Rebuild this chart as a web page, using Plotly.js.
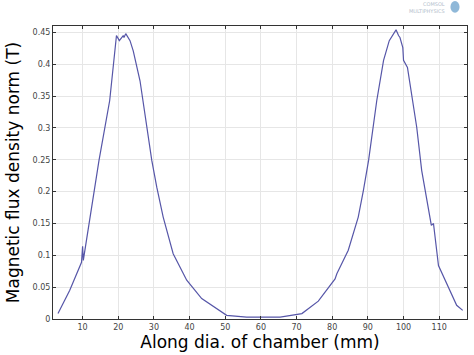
<!DOCTYPE html>
<html>
<head>
<meta charset="utf-8">
<script src="https://cdn.plot.ly/plotly-3.0.1.min.js"></script>
<style>html,body{margin:0;padding:0;background:#fff;}#chart{width:474px;height:355px;}</style>
</head>
<body>
<div id="chart"></div>
<script>
// Position along chamber diameter (mm)
const positionMm = [3.1, 6.4, 9.7, 10.0, 10.2, 11.6, 13.0, 14.6, 17.6, 19.5, 20.3, 21.4, 21.6, 22.1, 23.3, 24.2, 26.1, 29.4, 30.8, 32.6, 35.4, 39.2, 43.4, 50.4, 56.0, 65.4, 71.5, 76.1, 80.8, 81.3, 84.5, 87.3, 88.75, 90.2, 92.5, 94.4, 96.0, 97.2, 97.9, 98.6, 99.0, 99.8, 100.0, 101.1, 102.3, 103.7, 105.1, 107.5, 107.8, 108.4, 109.8, 114.9, 116.6];
// Magnetic flux density norm (T)
const fluxT = [0.0085, 0.045, 0.089, 0.114, 0.092, 0.144, 0.197, 0.249, 0.343, 0.445, 0.437, 0.445, 0.442, 0.448, 0.437, 0.421, 0.374, 0.249, 0.207, 0.160, 0.1025, 0.061, 0.032, 0.0058, 0.003, 0.003, 0.0085, 0.028, 0.063, 0.071, 0.108, 0.160, 0.202, 0.249, 0.343, 0.406, 0.437, 0.447, 0.454, 0.445, 0.442, 0.426, 0.406, 0.395, 0.353, 0.301, 0.233, 0.160, 0.147, 0.150, 0.084, 0.0215, 0.0136];

const xTicks = [10, 20, 30, 40, 50, 60, 70, 80, 90, 100, 110];
const yTicks = [0, 0.05, 0.1, 0.15, 0.2, 0.25, 0.3, 0.35, 0.4, 0.45];

const trace = {
  x: positionMm, y: fluxT, type: 'scatter', mode: 'lines',
  line: {color: '#5656a8', width: 1.2}, hoverinfo: 'skip'
};

const tickFont = {family: 'DejaVu Sans', size: 8, color: '#444'};
const titleFont = {family: 'DejaVu Sans', size: 17, color: '#000'};

const layout = {
  width: 474, height: 355,
  margin: {l: 53, r: 7, t: 26, b: 36},
  paper_bgcolor: '#fff', plot_bgcolor: '#fff',
  showlegend: false,
  xaxis: {
    range: [1.7, 117.8], tickvals: xTicks, ticktext: xTicks.map(String),
    ticks: 'inside', ticklen: 3, tickcolor: '#333', tickwidth: 1,
    showline: true, linecolor: '#333', linewidth: 1, mirror: 'ticks',
    showgrid: true, gridcolor: '#e6e6e6', gridwidth: 1, zeroline: false,
    tickfont: tickFont,
    title: {text: 'Along dia. of chamber (mm)', font: titleFont, standoff: 4}
  },
  yaxis: {
    range: [0, 0.46], tickvals: yTicks, ticktext: ['0','0.05','0.1','0.15','0.2','0.25','0.3','0.35','0.4','0.45'],
    ticks: 'inside', ticklen: 3, tickcolor: '#333', tickwidth: 1,
    showline: true, linecolor: '#333', linewidth: 1, mirror: 'ticks',
    showgrid: true, gridcolor: '#e6e6e6', gridwidth: 1, zeroline: false,
    tickfont: tickFont,
    title: {text: 'Magnetic flux density norm (T)', font: titleFont, standoff: 8}
  },
  annotations: [
    {xref: 'paper', yref: 'paper', x: 0.952, y: 1.075, xanchor: 'right', yanchor: 'middle',
     text: 'COMSOL', showarrow: false, font: {family: 'DejaVu Sans', size: 5, color: '#b4c0cc'}},
    {xref: 'paper', yref: 'paper', x: 0.952, y: 1.052, xanchor: 'right', yanchor: 'middle',
     text: 'MULTIPHYSICS', showarrow: false, font: {family: 'DejaVu Sans', size: 5, color: '#b4c0cc'}}
  ],
  shapes: [
    {type: 'circle', xref: 'paper', yref: 'paper', x0: 0.96, x1: 0.982, y0: 1.045, y1: 1.085,
     fillcolor: '#8fb8d8', line: {width: 0}}
  ]
};

Plotly.newPlot('chart', [trace], layout, {staticPlot: true, displayModeBar: false});
</script>
</body>
</html>
